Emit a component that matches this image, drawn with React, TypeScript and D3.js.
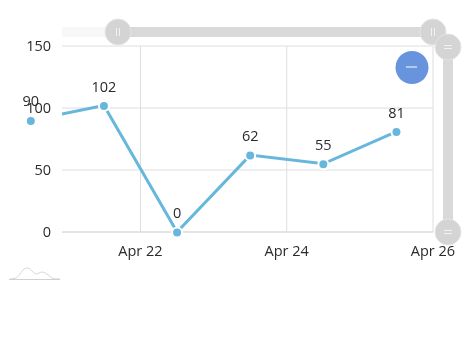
import React from "react";
import * as d3 from "d3";

const dayLabels = ["Apr 22", "Apr 24", "Apr 26"];
const tickDates = [new Date(2021, 3, 22), new Date(2021, 3, 24), new Date(2021, 3, 26)];
const pointDates = [20.5, 21.5, 22.5, 23.5, 24.5, 25.5].map((d) => new Date(2021, 3, Math.floor(d), 12));
const values = [90, 102, 0, 62, 55, 81];
const yTicks = [0, 50, 100, 150];
const sparkX = [0, 6, 10, 14, 18, 22, 26, 29, 32, 36, 40, 44, 50];
const sparkY = [0, 1, 5, 10, 11, 8, 5, 6, 7, 5.5, 2.5, 0.3, 0];

const lineColor = "#67b7dc";
const gridColor = "#dedede";
const scrollColor = "#d9d9d9";
const textColor = "#2b2b2b";
const font = "'Open Sans', sans-serif";

const x = d3.scaleTime().domain([new Date(2021, 3, 22), new Date(2021, 3, 26)]).range([140.5, 433]);
const y = d3.scaleLinear().domain([0, 150]).range([232, 46]);
const line = d3.line<Date>().x((d) => x(d)).y((_, i) => y(values[i]));

const sx = d3.scaleLinear().domain([0, 50]).range([10, 60]);
const sy = d3.scaleLinear().domain([0, 11]).range([279, 268]);
const spark = d3.line<number>().x((d) => sx(d)).y((_, i) => sy(sparkY[i])).curve(d3.curveMonotoneX);

function Thumb({ cx, cy, vertical }: { cx: number; cy: number; vertical: boolean }) {
  const a = 4;
  const g = 1.5;
  return (
    <g>
      <circle cx={cx} cy={cy} r={13} fill="#d4d4d4" stroke="#e4e4e4" strokeWidth={1} />
      {vertical ? (
        <>
          <line x1={cx - a} x2={cx + a} y1={cy - g} y2={cy - g} stroke="#f2f2f2" strokeWidth={1} />
          <line x1={cx - a} x2={cx + a} y1={cy + g} y2={cy + g} stroke="#f2f2f2" strokeWidth={1} />
        </>
      ) : (
        <>
          <line y1={cy - a} y2={cy + a} x1={cx - g} x2={cx - g} stroke="#f2f2f2" strokeWidth={1} />
          <line y1={cy - a} y2={cy + a} x1={cx + g} x2={cx + g} stroke="#f2f2f2" strokeWidth={1} />
        </>
      )}
    </g>
  );
}

export default function App() {
  return (
    <svg
      width={474}
      height={356}
      style={{ position: "fixed", left: 0, top: 0, fontFamily: font }}
    >
      <defs>
        <clipPath id="plot">
          <rect x={62} y={46} width={371} height={186} />
        </clipPath>
      </defs>
      {yTicks.map((t) => (
        <g key={t}>
          <line x1={62} x2={433} y1={y(t)} y2={y(t)} stroke={t === 0 ? "#c8c8c8" : gridColor} />
          <text x={51} y={y(t) + 5} textAnchor="end" fontSize={14.5} fill={textColor}>
            {t}
          </text>
        </g>
      ))}
      {tickDates.map((d, i) => (
        <g key={i}>
          <line x1={x(d)} x2={x(d)} y1={46} y2={232} stroke={gridColor} />
          <text x={x(d)} y={256} textAnchor="middle" fontSize={14.5} fill={textColor}>
            {dayLabels[i]}
          </text>
        </g>
      ))}

      <g clipPath="url(#plot)">
        <path d={line(pointDates) ?? ""} fill="none" stroke={lineColor} strokeWidth={3} />
      </g>
      {pointDates.map((d, i) => (
        <g key={i}>
          <circle cx={x(d)} cy={y(values[i]) + 0.5} r={5} fill={lineColor} stroke="#fff" strokeWidth={2} />
          <text x={x(d)} y={y(values[i]) - 14} textAnchor="middle" fontSize={14.5} fill={textColor}>
            {values[i]}
          </text>
        </g>
      ))}

      <rect x={62} y={27} width={56} height={10} fill="#f7f7f7" />
      <rect x={118} y={27} width={315} height={10} fill={scrollColor} />
      <Thumb cx={118} cy={32} vertical={false} />
      <Thumb cx={433} cy={32} vertical={false} />

      <rect x={443} y={46} width={10} height={186} fill={scrollColor} />
      <Thumb cx={448} cy={47} vertical={true} />
      <Thumb cx={448} cy={232} vertical={true} />

      <circle cx={412} cy={67.5} r={16.5} fill="#6794dc" />
      <line x1={406} x2={417} y1={67} y2={67} stroke="#fff" strokeWidth={1} />

      <path d={spark(sparkX) ?? ""} fill="none" stroke="#d8d8d8" strokeWidth={1} />
      <line x1={9} x2={60} y1={279.5} y2={279.5} stroke="#d0d0d0" />
    </svg>
  );
}
